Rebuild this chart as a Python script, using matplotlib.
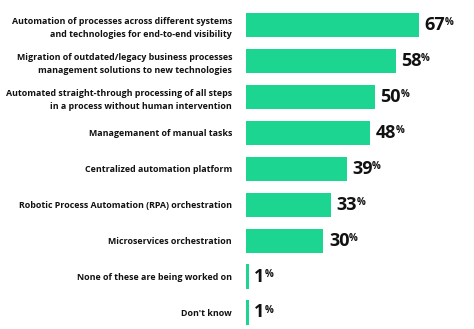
import matplotlib.pyplot as plt

# Survey answers, top to bottom
categories = [
    "Automation of processes across different systems\nand technologies for end-to-end visibility",
    "Migration of outdated/legacy business processes\nmanagement solutions to new technologies",
    "Automated straight-through processing of all steps\nin a process without human intervention",
    "Managemanent of manual tasks",
    "Centralized automation platform",
    "Robotic Process Automation (RPA) orchestration",
    "Microservices orchestration",
    "None of these are being worked on",
    "Don't know",
]
values = [67, 58, 50, 48, 39, 33, 30, 1, 1]

plt.rcParams['font.family'] = ['Open Sans', 'DejaVu Sans']

fig = plt.figure(figsize=(4.74, 3.29), dpi=100)
ax = fig.add_axes([0.519, 0.0, 0.481, 1.0])

pos = list(range(len(values)))
ax.barh(pos, values, height=0.67, color='#1bd591')

ax.set_xlim(0, 88.4)
ax.set_ylim(8.46, -0.69)

ax.set_yticks(pos)
ax.set_yticklabels(categories, fontsize=6.4, fontweight='bold', color='#111111',
                   linespacing=1.6)
ax.tick_params(axis='y', length=0, pad=10)
ax.set_xticks([])
for s in ax.spines.values():
    s.set_visible(False)

# value labels with small superscript percent sign
for i, v in enumerate(values):
    t = ax.annotate(str(v), xy=(v, i), xytext=(4, 0), textcoords='offset points',
                    ha='left', va='center', fontsize=13, fontweight='bold',
                    color='#111111')
    ax.annotate('%', xy=(0.98, 0.92), xycoords=t, ha='left', va='top',
                fontsize=7, fontweight='bold', color='#111111')

fig.savefig('out.png', dpi=100)
